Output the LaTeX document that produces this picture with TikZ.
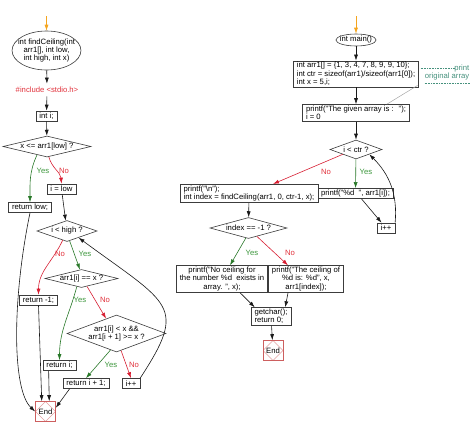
\documentclass[tikz,border=0pt]{standalone}
\usepackage{fontspec}
\setmainfont{Liberation Sans}
\usepackage{tikz}
\usetikzlibrary{arrows.meta,shapes.geometric}
\definecolor{yesgreen}{RGB}{40,120,40}
\definecolor{yestext}{RGB}{60,150,60}
\definecolor{nored}{RGB}{215,30,50}
\definecolor{notext}{RGB}{225,50,60}
\definecolor{startorange}{RGB}{245,165,30}
\definecolor{notecol}{RGB}{70,145,125}
\definecolor{endred}{RGB}{205,95,95}
\definecolor{endpink}{RGB}{225,160,160}
\definecolor{edge}{RGB}{60,60,60}
\tikzset{
  code/.style={font=\fontsize{7.7}{8.3}\selectfont},
  stmt/.style={code,draw=edge,line width=0.6pt,fill=white,inner xsep=3.5pt,
    inner ysep=1.5pt,minimum height=10pt},
  stmtl/.style={stmt,align=left},
  stmtc/.style={stmt,align=center},
  decision/.style={code,diamond,draw=edge,line width=0.6pt,fill=white,
    inner sep=0pt,aspect=4},
  terminal/.style={code,ellipse,draw=edge,line width=0.6pt,fill=white,align=center},
  endbox/.style={code,rectangle,draw=endred,line width=0.6pt,minimum width=20pt,
    minimum height=20pt,inner sep=0pt,
    path picture={\draw[endpink,line width=0.5pt] (path picture bounding box.north)
      -- (path picture bounding box.east) -- (path picture bounding box.south)
      -- (path picture bounding box.west) -- cycle;}},
  arrow/.style={-{Latex[length=6pt,width=4pt]},line width=0.6pt,black!90},
  yes/.style={arrow,yesgreen},
  no/.style={arrow,nored},
  start/.style={arrow,startorange},
  yeslabel/.style={code,text=yestext},
  nolabel/.style={code,text=notext},
  note/.style={code,text=notecol,align=right,inner sep=0pt},
  notedots/.style={notecol,densely dotted,line width=0.6pt},
  noteline/.style={draw=gray!70,line width=0.5pt}
}

\begin{document}
\begin{tikzpicture}[x=1pt,y=1pt]
\useasboundingbox (0,0) rectangle (474,-431);
\coordinate (s1) at (46.5,-16);
\node[terminal,inner xsep=-4.1pt,inner ysep=1.9pt] (fc) at (46.5,-50.5) {int findCeiling(int\\arr1[], int low,\\int high, int x)};
\node[code,text=notext] (inc) at (47,-90) {\#include <stdio.h>};
\node[stmt] (inti) at (46.5,-116) {int i;};
\node[decision,minimum width=88pt,minimum height=21pt] (lowq) at (47,-146.5) {x <= arr1[low] ?};
\node[stmt] (retlow) at (30,-207.5) {return low;};
\node[stmt] (ilow) at (61.5,-189) {i = low};
\node[decision,minimum width=60pt,minimum height=21pt] (highq) at (67,-231) {i < high ?};
\node[decision,minimum width=73pt,minimum height=18pt] (eqq) at (81.5,-278.5) {arr1[i] == x ?};
\node[stmt] (retneg) at (38.5,-300) {return -1;};
\node[decision,aspect=2.7,minimum width=99pt,minimum height=37pt,align=center] (ceilq) at (116.5,-333.5) {arr1[i] < x \&\&\\arr1[i + 1] >= x ?};
\node[stmt] (reti) at (59.5,-365.5) {return i;};
\node[stmt] (retnext) at (86,-383.5) {return i + 1;};
\node[stmt] (incl) at (131,-383.5) {i++};
\node[endbox] (endl) at (45.5,-411.5) {End};
\node[yeslabel] (y1) at (43,-171) {Yes};
\node[nolabel] (n1) at (64,-171) {No};
\node[yeslabel] (y2) at (85,-254) {Yes};
\node[nolabel] (n2) at (60,-254) {No};
\node[yeslabel] (y3) at (80,-300) {Yes};
\node[nolabel] (n3) at (105,-300) {No};
\node[yeslabel] (y4) at (111,-365) {Yes};
\node[nolabel] (n4) at (134,-365) {No};
\coordinate (s2) at (356,-16);
\node[terminal,inner xsep=-1.85pt,inner ysep=0.65pt] (main) at (356,-40) {int main()};
\node[stmtl] (init) at (356,-74) {int arr1[] = \{1, 3, 4, 7, 8, 9, 9, 10\};\\int ctr = sizeof(arr1)/sizeof(arr1[0]);\\int x = 5,i;};
\node[note] (print) at (447,-72.5) {print\\original array};
\node[stmtl] (given) at (356,-113) {printf("The given array is :~ ");\\i = 0};
\node[decision,minimum width=52pt,minimum height=19pt] (ctrq) at (356,-149.5) {i < ctr ?};
\node[stmt] (show) at (355.5,-193.5) {printf("\%d~ ", arr1[i]);};
\node[stmt] (incr) at (386,-228) {i++};
\node[stmtl] (call) at (249,-193.5) {printf("\textbackslash n");\\int index = findCeiling(arr1, 0, ctr-1, x);};
\node[decision,minimum width=77pt,minimum height=21pt] (idxq) at (248.5,-228) {index == -1 ?};
\node[stmtc] (none) at (222,-279) {printf("No ceiling for\\the number \%d~ exists in\\array. ", x);};
\node[stmtc] (found) at (306,-279) {printf("The ceiling of\\\%d is: \%d", x,\\arr1[index]);};
\node[stmtl] (done) at (271,-316.5) {getchar();\\return 0;};
\node[endbox] (endr) at (273,-350.5) {End};
\node[nolabel] (n5) at (326,-172) {No};
\node[yeslabel] (y5) at (366,-172) {Yes};
\node[yeslabel] (y6) at (252,-253) {Yes};
\node[nolabel] (n6) at (290,-253) {No};
\draw[start] (s1) -- (fc); \draw[arrow] (fc) -- (inc);
\draw[arrow] (inc) -- (inti); \draw[arrow] (inti) -- (lowq);
\draw[yes] (lowq.220) to[out=-115,in=90] (retlow.north);
\draw[no] (lowq.-80) to[out=-75,in=95] (ilow.north);
\draw[arrow] (ilow) -- (highq);
\draw[no] (highq.245) to[out=-115,in=90] (retneg.north);
\draw[yes] (highq.-75) -- (eqq.100);
\draw[no] (eqq.-55) -- (ceilq.125);
\draw[yes] (eqq.-120) to[out=-105,in=90] (reti.north);
\draw[yes] (ceilq.250) -- (retnext.north);
\draw[no] (ceilq.-75) -- (incl.north);
\draw[arrow] (incl.north east) .. controls (188,-305) and (170,-305) .. (highq.-30);
\draw[arrow] (retlow.south) .. controls (12,-300) and (12,-390) .. (endl.west);
\draw[arrow] (retneg.south) -- (endl.110);
\draw[arrow] ([xshift=6pt]reti.south west) -- (endl.70);
\draw[arrow] ([xshift=7pt]retnext.south west) -- (endl.20);
\draw[start] (s2) -- (main); \draw[arrow] (main) -- (init);
\draw[arrow] (init) -- (given); \draw[arrow] (given) -- (ctrq);
\draw[notedots] ([xshift=-4pt,yshift=-4pt]print.north west) -- ([xshift=-15pt,yshift=-4pt]print.north east);
\draw[notedots] ([yshift=-3pt]print.south west) -- ([yshift=-3pt]print.south east);
\draw[noteline] ([xshift=-7pt,yshift=-5pt]print.south west) -- ([xshift=-23pt]given.north east);
\draw[yes] (ctrq) -- (show);
\draw[no] (ctrq.200) -- ([xshift=24pt]call.north);
\draw[arrow] ([xshift=6pt]show.south) -- (incr.130);
\draw[arrow] (incr.north east) to[out=85,in=-45] (ctrq.-20);
\draw[arrow] (call) -- (idxq);
\draw[yes] (idxq.255) -- ([xshift=8pt]none.north);
\draw[no] (idxq.-45) -- ([xshift=-18pt]found.north);
\draw[arrow] ([xshift=18pt]none.south) -- ([xshift=4pt]done.north west);
\draw[arrow] ([xshift=-18pt]found.south) -- ([xshift=-6pt]done.north east);
\draw[arrow] (done) -- (endr);
\end{tikzpicture}
\end{document}
